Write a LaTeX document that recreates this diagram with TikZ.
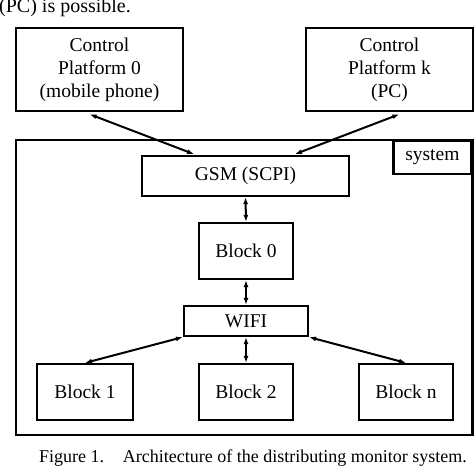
\documentclass[tikz,border=0pt]{standalone}
\usepackage{fontspec}
\setmainfont{Liberation Serif}
\usetikzlibrary{positioning,arrows.meta}

\begin{document}
\begin{tikzpicture}[x=1pt,y=-1pt,
  box/.style={draw,line width=2.2pt,align=center,inner sep=0pt,font=\fontsize{19.5}{23}\selectfont},
  link/.style={line width=2pt,{Latex[length=7pt,width=5pt]}-{Latex[length=7pt,width=5pt]}}]
  \useasboundingbox (0,0) rectangle (474,475);

  % text cut at the top
  \node[anchor=base west,inner sep=0pt,font=\fontsize{20}{23}\selectfont] (prev) at (-1,12.5) {(PC) is possible.};

  % control platforms
  \node[box,minimum width=167pt,minimum height=83pt] (cp0) at (99.5,69.5) {Control\\Platform 0\\(mobile phone)};
  \node[box,minimum width=167pt,minimum height=83pt] (cpk) at (389.5,69.5) {Control\\Platform k\\(PC)};

  % the system
  \draw[line width=2.2pt] (16,140) rectangle (472.5,435);
  \node[box,anchor=north east,minimum width=78pt,minimum height=33pt] (sys) at (472.5,140) {system};

  \node[box,minimum width=207pt,minimum height=40pt] (gsm) at (245.5,176) {GSM (SCPI)};
  \node[box,minimum width=94pt,minimum height=56pt] (b0) at (246,251) {Block 0};
  \node[box,minimum width=124pt,minimum height=30pt] (wifi) at (246,321) {WIFI};
  \node[box,minimum width=96pt,minimum height=56pt] (b1) at (85,392) {Block 1};
  \node[box,minimum width=94pt,minimum height=56pt] (b2) at (246,392) {Block 2};
  \node[box,minimum width=94pt,minimum height=56pt] (bn) at (406,392) {Block n};

  % links
  \draw[link,shorten <=6pt,shorten >=2pt] ([xshift=-15.5pt]cp0.south) -- ([xshift=-49.5pt]gsm.north);
  \draw[link,shorten <=6pt,shorten >=2pt] ([xshift=15.5pt]cpk.south) -- ([xshift=47.5pt]gsm.north);
  \draw[link] (gsm.south) -- (b0.north);
  \draw[link] (b0.south) -- (wifi.north);
  \draw[link] (wifi.south) -- (b2.north);
  \draw[link] (wifi.south west) -- (b1.north);
  \draw[link] (wifi.south east) -- (bn.north);

  % caption
  \node[font=\fontsize{18}{21}\selectfont] (cap) at (253,458) {Figure 1.\hspace{1.05em}Architecture of the distributing monitor system.};
\end{tikzpicture}
\end{document}
